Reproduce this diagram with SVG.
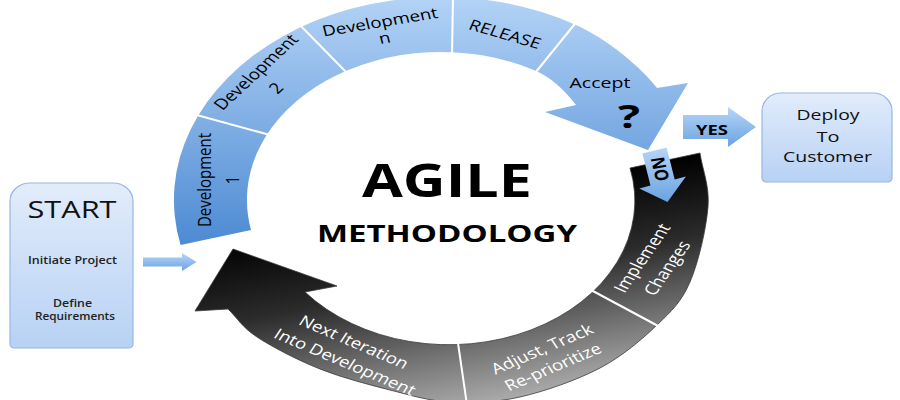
<svg xmlns="http://www.w3.org/2000/svg" width="900" height="400" viewBox="0 0 900 400">
<defs>
  <linearGradient id="gBlue" gradientUnits="userSpaceOnUse" x1="0" y1="0" x2="0" y2="250">
    <stop offset="0" stop-color="#b2d2f6"/>
    <stop offset="1" stop-color="#4b89d2"/>
  </linearGradient>
  <linearGradient id="gDark" gradientUnits="userSpaceOnUse" x1="700" y1="153" x2="742" y2="380">
    <stop offset="0" stop-color="#000000"/>
    <stop offset="0.35" stop-color="#2b2b2b"/>
    <stop offset="1" stop-color="#c2c2c2"/>
  </linearGradient>
  <linearGradient id="gArrow" x1="0" y1="0" x2="0" y2="1">
    <stop offset="0" stop-color="#b7d6f7"/>
    <stop offset="1" stop-color="#6aa2e2"/>
  </linearGradient>
  <linearGradient id="gBox" x1="0" y1="0" x2="0" y2="1">
    <stop offset="0" stop-color="#e2ecfb"/>
    <stop offset="1" stop-color="#b7d1f4"/>
  </linearGradient>
  <style>
    text { font-family: "Open Sans", "Liberation Sans", sans-serif; text-anchor: middle; }
    .blbl { font-size: 15px; fill: #000000; }
    .dlbl { font-size: 15px; fill: #ffffff; }
    .sep { stroke: #ffffff; stroke-width: 2; }
    .box { fill: url(#gBox); stroke: #95b8e4; stroke-width: 1.2; }
    .arrow { fill: url(#gArrow); }
    .bold { font-weight: 700; fill: #000000; }
    .boxtxt { fill: #111111; }
    .small { font-weight: 600; fill: #222222; }
  </style>
</defs>
<rect width="900" height="400" fill="#ffffff"/>

<g id="dark-arc">
  <path fill="url(#gDark)" stroke="#3a3a3a" stroke-width="0.8" d="M700,153 C702.7,171 709.7,185.5 708,207 C706.3,228.5 698.5,262.3 690,282 C681.5,301.7 672,310.7 657,325 C642,339.3 622.8,356 600,368 C577.2,380 545,391.3 520,397 C495,402.7 471.7,403.2 450,402 C428.3,400.8 411.7,395.5 390,390 C368.3,384.5 342.2,377.8 320,369 C297.8,360.2 272.3,347 257,337 C241.7,327 237.7,318.3 228,309 L195,311 L233,249 L337,286 L305,292 A186,144 0 0 0 630,168 Z"/>
  <line class="sep" x1="591" y1="290" x2="660" y2="327"/>
  <line class="sep" x1="458" y1="343" x2="467" y2="405"/>
  <text class="dlbl" transform="translate(642,258) scale(1.25,1) rotate(-60.7)" dy=".35em">Implement</text>
  <text class="dlbl" transform="translate(667,268) scale(1.25,1) rotate(-60.7)" dy=".35em">Changes</text>
  <text class="dlbl" font-size="14.5" transform="translate(542,349) scale(1.25,1) rotate(-27.9)" dy=".35em">Adjust, Track</text>
  <text class="dlbl" font-size="14.5" transform="translate(553,367) scale(1.25,1) rotate(-27.9)" dy=".35em">Re-prioritize</text>
  <text class="dlbl" transform="translate(354,342) scale(1.25,1) rotate(27.9)" dy=".35em">Next Iteration</text>
  <text class="dlbl" transform="translate(345,362) scale(1.25,1) rotate(27.9)" dy=".35em">Into Development</text>
</g>

<g id="blue-arc">
  <path fill="url(#gBlue)" d="M180.6,245 A267,203 0 0 1 575,24.4 C607,38.5 642,68 657,88 L688,83 L648,150 L545,112 L576,105 Q557,80 535,70.5 A194,148 0 0 0 251,230 Z"/>
  <line class="sep" x1="193" y1="114" x2="270" y2="135"/>
  <line class="sep" x1="296" y1="21" x2="348" y2="74"/>
  <line class="sep" x1="453" y1="-5" x2="452" y2="56"/>
  <line class="sep" x1="578" y1="20" x2="531" y2="78"/>
  <text class="blbl" transform="translate(204,180) scale(1.25,1) rotate(-90)" dy=".35em">Development</text>
  <text class="blbl" transform="translate(232,180) scale(1.25,1) rotate(-90)" dy=".35em">1</text>
  <text class="blbl" transform="translate(256,72) scale(1.25,1) rotate(-49.2)" dy=".35em">Development</text>
  <text class="blbl" transform="translate(276,88) scale(1.25,1) rotate(-49.2)" dy=".35em">2</text>
  <text class="blbl" transform="translate(380,22) scale(1.25,1) rotate(-11.6)" dy=".35em">Development</text>
  <text class="blbl" transform="translate(384.5,38) scale(1.25,1) rotate(-11.6)" dy=".35em">n</text>
  <text class="blbl" font-size="15.5" transform="translate(505,34) scale(1.25,1) rotate(19.7)" dy=".35em">RELEASE</text>
  <text class="blbl" x="600" y="88" textLength="61" lengthAdjust="spacingAndGlyphs">Accept</text>
  <text class="bold" x="629" y="128" font-size="32" textLength="22" lengthAdjust="spacingAndGlyphs">?</text>
</g>

<g id="title">
  <text class="bold" x="447" y="197" font-size="47" textLength="170" lengthAdjust="spacingAndGlyphs">AGILE</text>
  <text class="bold" x="447" y="242" font-size="24" textLength="260" lengthAdjust="spacingAndGlyphs">METHODOLOGY</text>
</g>

<g id="node-start">
  <path class="box" d="M10,201 A20,18 0 0 1 30,183 L113,183 A20,18 0 0 1 133,201 L133,344 A4,4 0 0 1 129,348 L14,348 A4,4 0 0 1 10,344 Z"/>
  <text class="boxtxt" x="72" y="218" font-size="23" textLength="89" lengthAdjust="spacingAndGlyphs">START</text>
  <text class="small" x="72.5" y="264" font-size="11.5" textLength="89" lengthAdjust="spacingAndGlyphs">Initiate Project</text>
  <text class="small" x="72.5" y="306.5" font-size="11.5" textLength="39" lengthAdjust="spacingAndGlyphs">Define</text>
  <text class="small" x="75" y="320" font-size="11.5" textLength="80" lengthAdjust="spacingAndGlyphs">Requirements</text>
</g>

<g id="node-deploy">
  <path class="box" d="M762,111 A19,18 0 0 1 781,93 L873,93 A19,18 0 0 1 892,111 L892,178 A4,4 0 0 1 888,182 L766,182 A4,4 0 0 1 762,178 Z"/>
  <text class="boxtxt" x="828" y="120" font-size="15.2" textLength="63" lengthAdjust="spacingAndGlyphs">Deploy</text>
  <text class="boxtxt" x="828" y="141.5" font-size="15.2" textLength="23" lengthAdjust="spacingAndGlyphs">To</text>
  <text class="boxtxt" x="827.5" y="161.5" font-size="15.2" textLength="89" lengthAdjust="spacingAndGlyphs">Customer</text>
</g>

<g id="connectors">
  <path class="arrow" d="M143,257.5 L182,257.5 L182,253 L196.5,262 L182,271 L182,266.5 L143,266.5 Z"/>
  <path class="arrow" d="M683,115 L728,115 L728,107 L756,127 L728,147 L728,139 L683,139 Z"/>
  <text class="bold" x="712" y="135" font-size="14" textLength="32" lengthAdjust="spacingAndGlyphs">YES</text>
  <path class="arrow" d="M642.4,153.6 L666.6,147.4 L674.7,179.4 L685.9,176.6 L667.5,201.9 L639.3,188.4 L650.5,185.6 Z"/>
  <text class="bold" font-size="15" transform="translate(660,169) scale(1.25,1) rotate(78.6)" dy=".35em">NO</text>
</g>
</svg>
